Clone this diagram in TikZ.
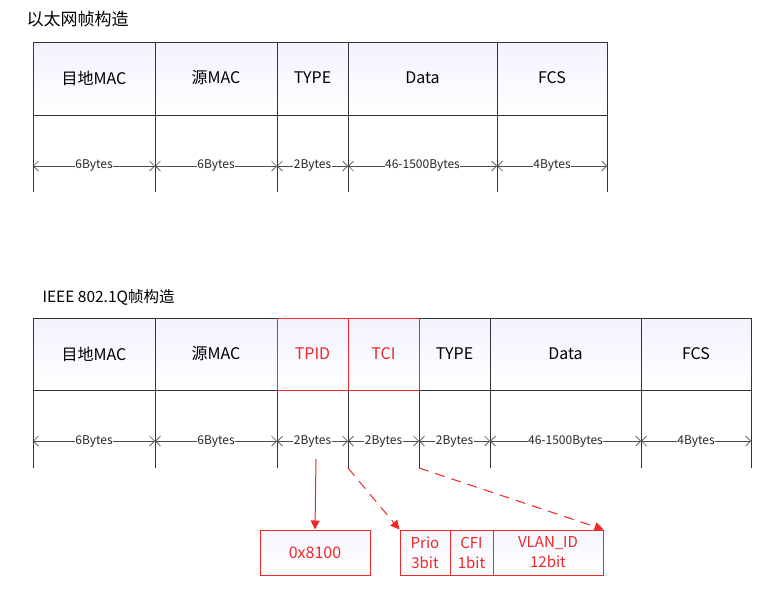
\documentclass[tikz,border=0pt]{standalone}
\usepackage{fontspec}
\setmainfont{Noto Sans CJK SC}
\usetikzlibrary{arrows.meta}
\definecolor{rd}{RGB}{240,40,40}
\tikzset{x=1pt,y=-1pt,
 hdr/.style={draw=black!80,line width=0.9pt,top color=blue!5,bottom color=white},
 grid/.style={draw=black!80,line width=0.9pt},
 dim/.style={{Straight Barb[length=5pt,width=10pt]}-{Straight Barb[length=5pt,width=10pt]},black!70,line width=0.7pt},
 dlab/.style={fill=white,inner sep=0.5pt,font=\fontsize{12}{13}\selectfont,text=black!85},
 lab/.style={font=\fontsize{16}{18}\selectfont},
 rbox/.style={draw=rd,line width=1pt,top color=blue!4,bottom color=white,text=rd},
 rarr/.style={rd,line width=1pt,-{Triangle[length=9pt,width=9pt]}}}
\begin{document}
\begin{tikzpicture}
\useasboundingbox (0,0) rectangle (781,592);
\node[anchor=west,font=\fontsize{17}{19}\selectfont] (t1) at (23,19) {以太网帧构造};
\node[anchor=west,font=\fontsize{15.5}{18}\selectfont] (t2) at (39,297) {IEEE 802.1Q帧构造};
% top table
\foreach \a/\b/\t [count=\i] in {33/155/目地MAC,155/277/源MAC,277/348/TYPE,348/497/Data,497/607/FCS}{
  \path[hdr] (\a,42) rectangle (\b,115);
  \node[lab] (h\i) at ({(\a+\b)/2},78) {\t};
}
\foreach \x in {33,155,277,348,497,607} \draw[grid] (\x,115) -- (\x,192);
\foreach \a/\b/\t in {33/155/6Bytes,155/277/6Bytes,277/348/2Bytes,348/497/46-1500Bytes,497/607/4Bytes}{
  \draw[dim] (\a,166) -- (\b,166);
  \node[dlab] at ({(\a+\b)/2},166) {\t};
}
% bottom table
\foreach \a/\b/\t in {33/155/目地MAC,155/277/源MAC,419/490/TYPE,490/641/Data,641/751/FCS}{
  \path[hdr] (\a,318) rectangle (\b,390);
  \node[lab] at ({(\a+\b)/2},354) {\t};
}
\path[hdr,draw=rd] (277,318) rectangle (348,390);
\node[lab,text=rd] (tpid) at (312.5,354) {TPID};
\path[hdr,draw=rd] (348,318) rectangle (419,390);
\node[lab,text=rd] (tci) at (383.5,354) {TCI};
\foreach \x in {33,155,277,490,641,751} \draw[grid] (\x,390) -- (\x,468);
\draw[grid] (348,390) -- (348,468) coordinate (c1);
\draw[grid] (419,390) -- (419,468) coordinate (c2);
\foreach \a/\b/\t in {33/155/6Bytes,155/277/6Bytes,277/348/2Bytes,348/419/2Bytes,419/490/2Bytes,490/641/46-1500Bytes,641/751/4Bytes}{
  \draw[dim] (\a,441) -- (\b,441);
  \node[dlab] at ({(\a+\b)/2},441) {\t};
}
\coordinate (c0) at (316,459);
% red boxes
\node[rbox,minimum width=110pt,minimum height=45pt,font=\fontsize{16}{18}\selectfont] (hex) at (315,552.5) {0x8100};
\node[rbox,minimum width=50pt,minimum height=45pt,align=center,inner sep=0pt,font=\fontsize{15}{20}\selectfont] (prio) at (425,552.5) {Prio\\3bit};
\node[rbox,minimum width=43pt,minimum height=45pt,align=center,inner sep=0pt,font=\fontsize{15}{20}\selectfont] (cfi) at (471.5,552.5) {CFI\\1bit};
\node[rbox,minimum width=110pt,minimum height=45pt,align=center,inner sep=0pt,font=\fontsize{15}{20}\selectfont] (vid) at (548,552.5) {VLAN\_ID\\12bit};
\draw[rarr] (c0) -- (hex.north);
\draw[rarr,dash pattern=on 10pt off 7pt] (c1) -- (prio.north west);
\draw[rarr,dash pattern=on 10pt off 7pt] (c2) -- (vid.north east);
\end{tikzpicture}
\end{document}
